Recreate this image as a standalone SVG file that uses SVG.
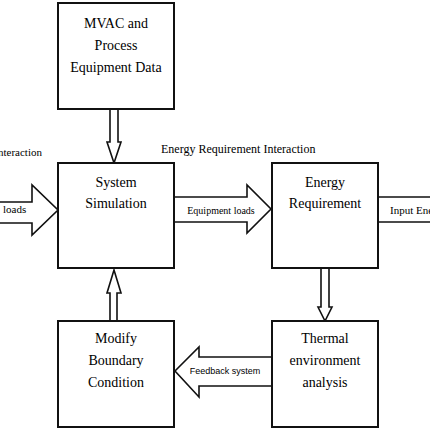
<svg xmlns="http://www.w3.org/2000/svg" width="430" height="430" viewBox="0 0 430 430">
<style>
.box{fill:#fff;stroke:#111;stroke-width:2}
.arr{fill:#fff;stroke:#111;stroke-width:1.6;stroke-linejoin:miter}
.t{font-family:"Liberation Serif","Times New Roman",serif;font-size:14px;fill:#000;text-anchor:middle}
.s{font-family:"Liberation Serif","Times New Roman",serif;font-size:11px;fill:#000}
.f{font-family:"Liberation Sans",Arial,sans-serif;font-size:9px;fill:#000}
</style>
<rect width="430" height="430" fill="#fff"/>
<g id="connectors">
<path class="arr" d="M110,109 L110,142 L107,142 L114,163 L121,142 L118,142 L118,109"/>
<path class="arr" d="M321,268 L321,307 L318,307 L325,321 L332,307 L329,307 L329,268"/>
<path class="arr" d="M110,321 L110,293 L107,293 L114,270 L121,293 L117,293 L117,321"/>
<path class="arr" d="M-5,202 L32,202 L32,185 L58,210 L32,235 L32,223 L-5,223"/>
<path class="arr" d="M174,197 L247,197 L247,185 L271,209 L247,233 L247,222 L174,222"/>
<path class="arr" d="M378,197 L435,197 L435,222 L378,222"/>
<path class="arr" d="M272,357 L199,357 L199,347 L175,371 L199,397 L199,386 L272,386"/>
<text class="s" x="42" y="156" text-anchor="end">Interaction</text>
<text class="s" x="3" y="213">loads</text>
<text class="s" x="161" y="153" style="font-size:12px">Energy Requirement Interaction</text>
<text class="s" x="221" y="214" text-anchor="middle" style="font-size:10px">Equipment loads</text>
<text class="s" x="390" y="214">Input Energy</text>
<text class="f" x="225" y="374" text-anchor="middle">Feedback system</text>
</g>
<g id="mvac">
<rect class="box" x="58" y="3" width="116" height="106"/>
<text class="t" x="116" y="28">MVAC and</text>
<text class="t" x="116" y="50">Process</text>
<text class="t" x="116" y="72">Equipment Data</text>
</g>
<g id="system">
<rect class="box" x="58" y="163" width="116" height="105"/>
<text class="t" x="116" y="187">System</text>
<text class="t" x="116" y="208">Simulation</text>
</g>
<g id="energy">
<rect class="box" x="272" y="163" width="106" height="105"/>
<text class="t" x="325" y="187">Energy</text>
<text class="t" x="325" y="208">Requirement</text>
</g>
<g id="modify">
<rect class="box" x="58" y="321" width="116" height="106"/>
<text class="t" x="116" y="343">Modify</text>
<text class="t" x="116" y="365">Boundary</text>
<text class="t" x="116" y="387">Condition</text>
</g>
<g id="thermal">
<rect class="box" x="272" y="321" width="106" height="106"/>
<text class="t" x="325" y="343">Thermal</text>
<text class="t" x="325" y="365">environment</text>
<text class="t" x="325" y="387">analysis</text>
</g>
</svg>
